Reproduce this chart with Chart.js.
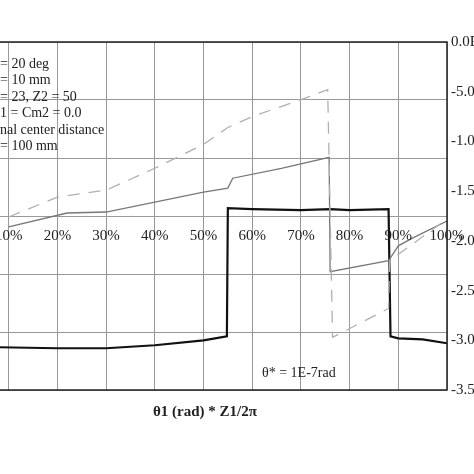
<!DOCTYPE html>
<html>
<head>
<meta charset="utf-8">
<script src="https://cdn.jsdelivr.net/npm/chart.js@4.4.0/dist/chart.umd.min.js"></script>
<style>
  html, body { margin: 0; padding: 0; background: #fff; overflow: hidden; width: 474px; height: 474px; }
  #wrap { position: absolute; left: -100px; top: 0; width: 650px; height: 474px; }
</style>
</head>
<body>
<div id="wrap"><canvas id="c" width="650" height="474"></canvas></div>
<script>
// valores en unidades de 1E-7 rad, x en % del paso
const xTicks = [10, 20, 30, 40, 50, 60, 70, 80, 90, 100];
const yTicks = [0, -0.5, -1.0, -1.5, -2.0, -2.5, -3.0, -3.5];

const negroX = [8, 20, 30, 40, 50, 54.8, 55.0, 60, 70, 76, 80, 88.0, 88.4, 90, 95, 100];
const negroY = [-3.07, -3.08, -3.08, -3.05, -3.0, -2.96, -1.67, -1.68, -1.69, -1.68, -1.69, -1.68, -2.96, -2.98, -2.99, -3.03];

const grisX = [10, 22, 30, 40, 50, 55, 56, 66, 75.8, 76.0, 88, 90, 93, 100];
const grisY = [-1.86, -1.72, -1.71, -1.61, -1.51, -1.47, -1.37, -1.27, -1.16, -2.31, -2.20, -2.05, -1.97, -1.80];

const trazosX = [10, 20, 30, 40, 50, 55, 60, 70, 75.5, 76.5, 88, 88.2, 100];
const trazosY = [-1.76, -1.56, -1.49, -1.27, -1.03, -0.86, -0.75, -0.58, -0.48, -2.97, -2.68, -2.20, -1.78];

const leyendaPre = ['α ', 'm ', 'Z1 ', 'Cm', 'Nomi', 'a '];
const leyendaTxt = ['= 20 deg', '= 10 mm', '= 23, Z2 = 50', '1 = Cm2 = 0.0', 'nal center distance', '= 100 mm'];

const pts = (xs, ys) => xs.map((x, i) => ({ x: x, y: ys[i] }));

const textos = {
  id: 'textos',
  afterDraw(chart) {
    const c = chart.ctx;
    const xs = chart.scales.x;
    c.save();
    c.fillStyle = '#222';
    c.textBaseline = 'middle';
    // etiquetas del eje x en medio del gráfico
    c.font = '15px "Liberation Serif"';
    c.textAlign = 'center';
    xTicks.forEach(t => c.fillText(t + '%', xs.getPixelForValue(t), 236));
    // leyenda cortada a la izquierda
    c.font = '14px "Liberation Serif"';
    leyendaTxt.forEach((t, i) => {
      const y = 64 + i * 16.5;
      c.textAlign = 'right'; c.fillText(leyendaPre[i], 100, y);
      c.textAlign = 'left'; c.fillText(t, 100, y);
    });
    c.textAlign = 'left';
    c.fillText('θ* = 1E-7rad', 362, 373);
    c.font = 'bold 15px "Liberation Serif"';
    c.textAlign = 'center';
    c.fillText('θ1 (rad) * Z1/2π', 305, 412);
    // borde del área
    const a = chart.chartArea;
    c.strokeStyle = '#222'; c.lineWidth = 1.5;
    c.strokeRect(a.left, a.top, a.right - a.left, a.bottom - a.top);
    c.restore();
  }
};

new Chart(document.getElementById('c'), {
  type: 'line',
  data: {
    datasets: [
      { data: pts(trazosX, trazosY), borderColor: '#b0b0b0', borderWidth: 1.3, borderDash: [12, 9], pointRadius: 0, yAxisID: 'yR' },
      { data: pts(grisX, grisY), borderColor: '#777', borderWidth: 1.3, pointRadius: 0, yAxisID: 'yR' },
      { data: pts(negroX, negroY), borderColor: '#111', borderWidth: 2.2, pointRadius: 0, yAxisID: 'yR' }
    ]
  },
  options: {
    responsive: false,
    animation: false,
    layout: { padding: { left: 60, top: 42, bottom: 84, right: 0 } },
    plugins: { legend: { display: false }, tooltip: { enabled: false } },
    scales: {
      x: {
        type: 'linear', min: 0, max: 100,
        ticks: { display: false, stepSize: 10 },
        grid: { color: '#999', lineWidth: 1, drawTicks: false },
        border: { display: false }
      },
      yL: {
        position: 'left', min: 0, max: 6,
        ticks: { display: false, stepSize: 1 },
        grid: { color: '#999', lineWidth: 1, drawTicks: false },
        border: { display: false },
        afterFit(s) { s.width = 0; }
      },
      yR: {
        position: 'right', min: -3.5, max: 0,
        afterBuildTicks(s) { s.ticks = yTicks.map(v => ({ value: v })); },
        ticks: {
          color: '#222', font: { family: 'Liberation Serif', size: 15 }, padding: 0,
          callback: v => (v === 0 ? '0.0E+00' : (v * 1e-7).toExponential(1).replace('e-', 'E-0'))
        },
        grid: { display: false, drawTicks: true, tickLength: 4 },
        border: { display: false },
        afterFit(s) { s.width = 103; }
      }
    }
  },
  plugins: [textos]
});
</script>
</body>
</html>
